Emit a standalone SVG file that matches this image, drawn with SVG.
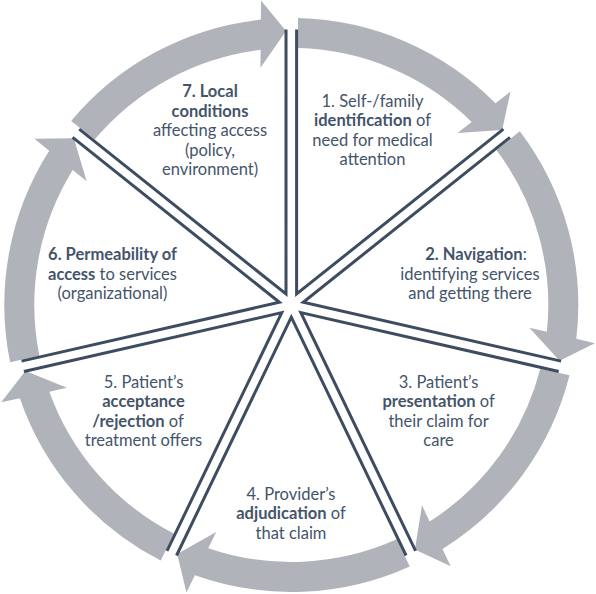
<svg xmlns="http://www.w3.org/2000/svg" width="596" height="594" viewBox="0 0 596 594">
<style>
.arrow{fill:#b0b3b9}
.wedge{fill:none;stroke:#3e4c60;stroke-width:3;stroke-linejoin:miter;stroke-linecap:butt}
text{font-family:Lato,"Liberation Sans",sans-serif;font-size:16.5px;fill:#44546a;text-anchor:middle}
.b{font-weight:700}
</style>
<defs>
<path id="arr" d="M298.0,18.1 A287,287 0 0 1 495.45,103.28 L510.5,91.5 L502.2,130.1 L457.5,133 L471.66,121.92 A257,257 0 0 0 298.0,48.1 Z"/>
<path id="wdg" d="M296.6,29.5 L296.6,294.0 L503.4,129.1"/>
</defs>
<rect width="596" height="594" fill="#ffffff"/>
<g id="connectors">
<use href="#arr" class="arrow"/>
<use href="#arr" class="arrow" transform="rotate(51.4286 291.3 305)"/>
<use href="#arr" class="arrow" transform="rotate(102.8571 291.3 305)"/>
<use href="#arr" class="arrow" transform="rotate(154.2857 291.3 305)"/>
<use href="#arr" class="arrow" transform="rotate(205.7143 291.3 305)"/>
<use href="#arr" class="arrow" transform="rotate(257.1429 291.3 305)"/>
<use href="#arr" class="arrow" transform="rotate(308.5714 291.3 305)"/>
</g>
<g id="sector1">
<use href="#wdg" class="wedge"/>
<text x="372.5" y="106.5">1. Self-/family</text>
<text x="372.5" y="126.1"><tspan class="b">identification</tspan> of</text>
<text x="372.5" y="145.7">need for medical</text>
<text x="372.5" y="165.3">attention</text>
</g>
<g id="sector2">
<use href="#wdg" class="wedge" transform="rotate(51.4286 291.3 305)"/>
<text x="476" y="260"><tspan class="b">2. Navigation</tspan>:</text>
<text x="470" y="279.6">identifying services</text>
<text x="470" y="299.2">and getting there</text>
</g>
<g id="sector3">
<use href="#wdg" class="wedge" transform="rotate(102.8571 291.3 305)"/>
<text x="438.6" y="387.5">3. Patient’s</text>
<text x="438.6" y="407.1"><tspan class="b">presentation</tspan> of</text>
<text x="438.6" y="426.7">their claim for</text>
<text x="438.6" y="446.3">care</text>
</g>
<g id="sector4">
<use href="#wdg" class="wedge" transform="rotate(154.2857 291.3 305)"/>
<text x="291" y="499.5">4. Provider’s</text>
<text x="291" y="519.1"><tspan class="b">adjudication</tspan> of</text>
<text x="291" y="538.7">that claim</text>
</g>
<g id="sector5">
<use href="#wdg" class="wedge" transform="rotate(205.7143 291.3 305)"/>
<text x="143.5" y="387.5">5. Patient’s</text>
<text x="143.5" y="407.1" class="b">acceptance</text>
<text x="138" y="426.7"><tspan class="b">/rejection</tspan> of</text>
<text x="143.5" y="446.3">treatment offers</text>
</g>
<g id="sector6">
<use href="#wdg" class="wedge" transform="rotate(257.1429 291.3 305)"/>
<text x="112.5" y="260" class="b">6. Permeability of</text>
<text x="112.5" y="279.6"><tspan class="b">access</tspan> to services</text>
<text x="112.5" y="299.2">(organizational)</text>
</g>
<g id="sector7">
<use href="#wdg" class="wedge" transform="rotate(308.5714 291.3 305)"/>
<text x="210" y="97" class="b">7. Local</text>
<text x="210" y="116.6" class="b">conditions</text>
<text x="210" y="136.2">affecting access</text>
<text x="210" y="155.8">(policy,</text>
<text x="210" y="175.4">environment)</text>
</g>
</svg>
